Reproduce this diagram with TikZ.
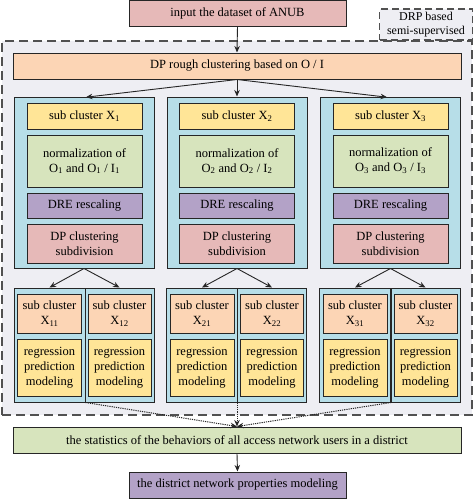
\documentclass[tikz,border=0pt]{standalone}
\usepackage{fontspec}
\setmainfont{Liberation Serif}
\usetikzlibrary{arrows.meta}
\definecolor{cpink}{HTML}{E6B9B8}
\definecolor{cpeach}{HTML}{FCD5B5}
\definecolor{cblue}{HTML}{B7DEE8}
\definecolor{cyel}{HTML}{FFE597}
\definecolor{cgreen}{HTML}{D7E4BD}
\definecolor{cpurp}{HTML}{B3A2C7}
\definecolor{cregion}{HTML}{EEEEF3}
\definecolor{cline}{HTML}{262626}
\tikzset{
  box/.style={draw=cline, line width=1pt, inner sep=1pt, align=center, font=\fontsize{12.5}{15}\selectfont},
  cont/.style={draw=cline, line width=1pt, fill=cblue, inner sep=0pt},
  arr/.style={draw=cline, line width=0.9pt, -{Stealth[length=6.5pt,width=5.5pt]}},
  darr/.style={draw=cline, line width=1pt, dash pattern=on 1.2pt off 1pt, -{Stealth[length=6.5pt,width=5.5pt]}},
}
\begin{document}
\begin{tikzpicture}[x=1pt,y=-1pt]
\useasboundingbox (0,0) rectangle (474,499);
% region
\node[draw=cline!80, line width=1.8pt, dash pattern=on 9pt off 5pt, fill=cregion, minimum width=470pt, minimum height=374pt, inner sep=0pt] (region) at (237,228) {};
\node[box, draw=cline!80, line width=1.2pt, dash pattern=on 7pt off 4pt, fill=cregion, minimum width=93pt, minimum height=31pt, font=\fontsize{12}{14}\selectfont] (drp) at (426,24.5) {DRP based\\semi-supervised};
% top
\node[box, fill=cpink, minimum width=217pt, minimum height=25.5pt] (input) at (237.5,13.25) {input the dataset of ANUB};
\node[box, fill=cpeach, minimum width=448pt, minimum height=26pt] (dp) at (237,66) {DP rough clustering based on O / I};
% clusters
\foreach \n/\cx/\ix/\k in {a/84/84.5/1, b/237/237/2, c/390.5/390.5/3}{
  \node[cont, minimum width=140pt, minimum height=171pt] (cl\n) at (\cx,182.5) {};
  \node[box, fill=cyel, minimum width=115pt, minimum height=26pt] (sc\n) at (\ix,116) {sub cluster X\textsubscript{\k}};
  \node[box, fill=cgreen, minimum width=115pt, minimum height=52pt] (nm\n) at (\ix,161) {normalization of\\O\textsubscript{\k} and O\textsubscript{\k} / I\textsubscript{\k}};
  \node[box, fill=cpurp, minimum width=115pt, minimum height=25pt] (dre\n) at (\ix,205.5) {DRE rescaling};
  \node[box, fill=cpink, minimum width=115pt, minimum height=39pt] (dps\n) at (\ix,243.5) {DP clustering\\subdivision};
}
% bottom pairs
\foreach \n/\lx/\rx/\k in {a/49.5/119.5/1, b/202/272/2, c/355/425.5/3}{
  \node[cont, minimum width=71pt, minimum height=114pt] (pl\n) at (\lx,345) {};
  \node[cont, minimum width=69pt, minimum height=114pt] (pr\n) at (\rx,345) {};
  \node[box, fill=cpeach, minimum width=64pt, minimum height=39pt] (sl\n) at (\lx,313.5) {sub cluster\\X\textsubscript{\k1}};
  \node[box, fill=cpeach, minimum width=63pt, minimum height=39pt] (sr\n) at (\rx,313.5) {sub cluster\\X\textsubscript{\k2}};
  \node[box, fill=cyel, minimum width=64pt, minimum height=57pt] (rl\n) at (\lx,367.5) {regression\\prediction\\modeling};
  \node[box, fill=cyel, minimum width=63pt, minimum height=57pt] (rr\n) at (\rx,367.5) {regression\\prediction\\modeling};
  \draw[arr] (cl\n.south) -- (pl\n.north);
  \draw[arr] (cl\n.south) -- (pr\n.north);
}
% bottom
\node[box, fill=cgreen, minimum width=448pt, minimum height=26pt] (stat) at (237,440) {the statistics of the behaviors of all access network users in a district};
\node[box, fill=cpurp, minimum width=217pt, minimum height=26pt] (final) at (237.5,485) {the district network properties modeling};
% arrows
\draw[arr] (input.south) -- (dp.north);
\draw[arr] (dp.south) -- (86,97.2) coordinate (ta);
\draw[arr] (dp.south) -- (clb.north);
\draw[arr] (dp.south) -- (387,97.2) coordinate (tc);
\draw[darr] (pla.south east) -- (stat.north);
\draw[darr] (clb.south |- plb.south) -- (stat.north);
\draw[darr] (plc.south east) -- (stat.north);
\draw[arr] (stat.south) -- (final.north);
\end{tikzpicture}
\end{document}
